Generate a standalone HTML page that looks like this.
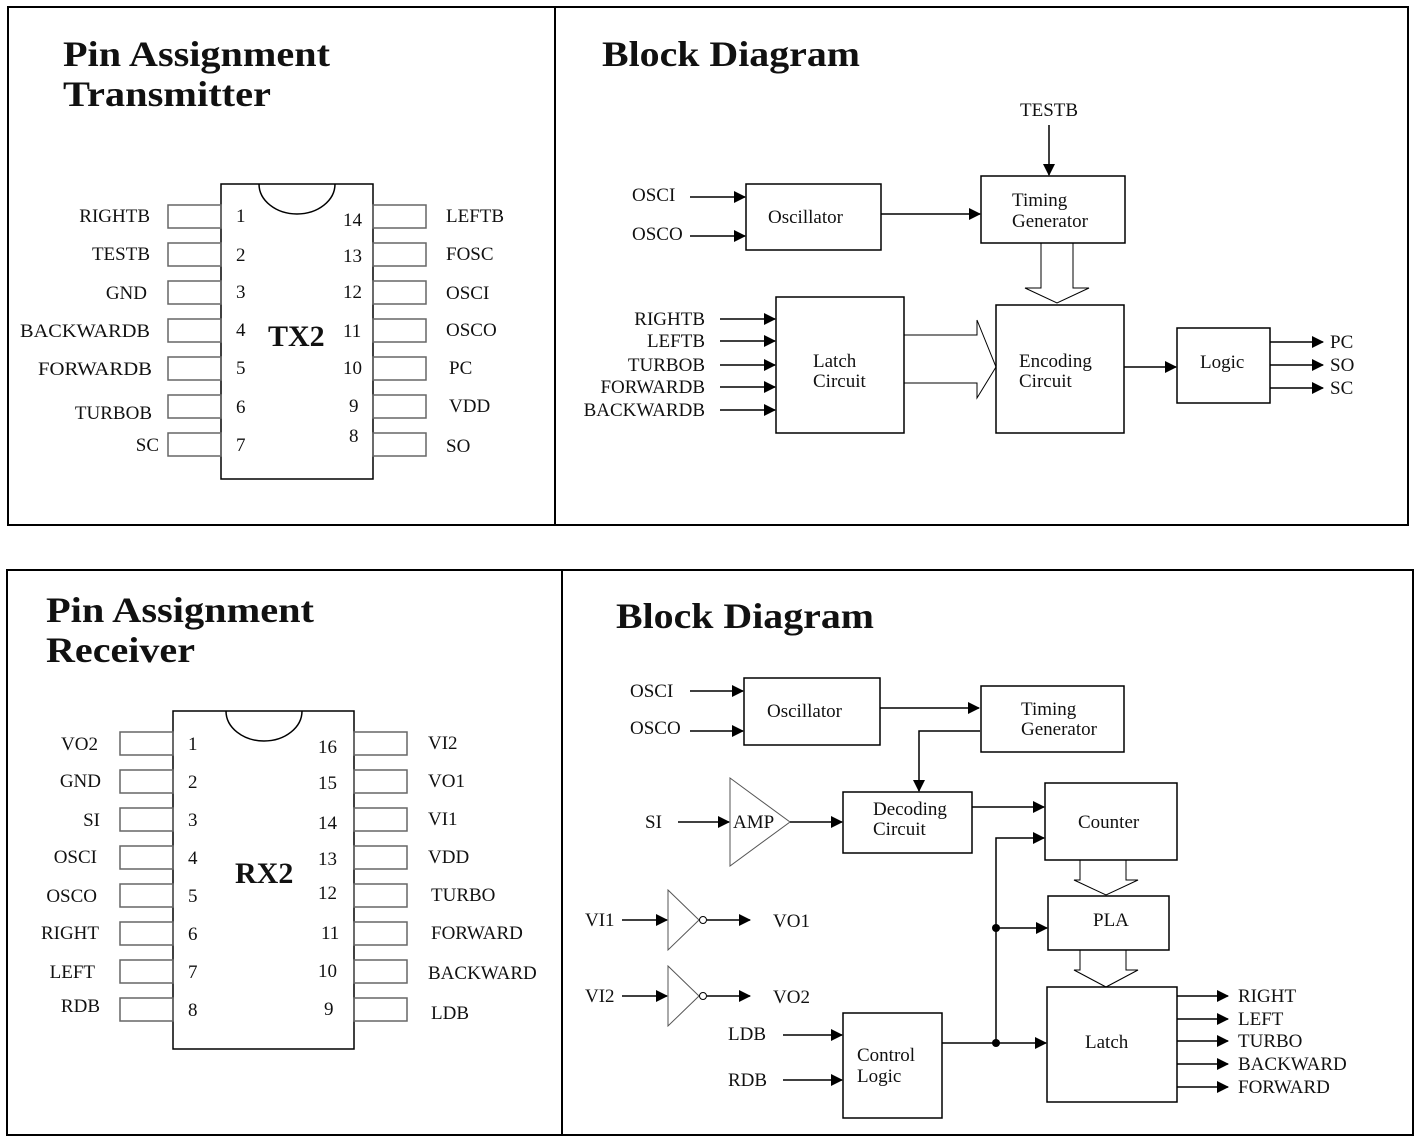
<!DOCTYPE html>
<html><head><meta charset="utf-8"><style>
body{margin:0;background:#fff}
svg{display:block}
text{font-family:"Liberation Serif",serif;font-size:19px;fill:#111}
.t{font-size:36px;font-weight:bold}
.b{font-weight:bold;font-size:30px}
</style></head><body>
<svg width="1419" height="1143" viewBox="0 0 1419 1143" xmlns="http://www.w3.org/2000/svg">
<defs><marker id="a" markerWidth="12" markerHeight="12" refX="11" refY="6" orient="auto" markerUnits="userSpaceOnUse"><path d="M0,0 L12,6 L0,12 z" fill="#000"/></marker></defs>
<g fill="none" stroke="#000" stroke-width="2">
<rect x="8" y="7" width="1400" height="518"/><line x1="555" y1="7" x2="555" y2="525"/>
<rect x="7" y="570" width="1406" height="565"/><line x1="562" y1="570" x2="562" y2="1135"/>
</g>
<text class="t" x="63" y="66" textLength="267" lengthAdjust="spacingAndGlyphs">Pin Assignment</text><text class="t" x="63" y="106" textLength="208" lengthAdjust="spacingAndGlyphs">Transmitter</text>
<text class="t" x="602" y="66" textLength="258" lengthAdjust="spacingAndGlyphs">Block Diagram</text>
<text class="t" x="46" y="622" textLength="268" lengthAdjust="spacingAndGlyphs">Pin Assignment</text><text class="t" x="46" y="662" textLength="149" lengthAdjust="spacingAndGlyphs">Receiver</text>
<text class="t" x="616" y="628" textLength="258" lengthAdjust="spacingAndGlyphs">Block Diagram</text>
<!-- TX2 chip -->
<g fill="none" stroke="#000" stroke-width="1.5">
<rect x="221" y="184" width="152" height="295"/>
<path d="M259,184 A38,30 0 0 0 335,184"/>
<g stroke="#666">
<rect x="168" y="205" width="53" height="23"/><rect x="168" y="243" width="53" height="23"/><rect x="168" y="281" width="53" height="23"/><rect x="168" y="319" width="53" height="23"/><rect x="168" y="357" width="53" height="23"/><rect x="168" y="395" width="53" height="23"/><rect x="168" y="433" width="53" height="23"/>
<rect x="373" y="205" width="53" height="23"/><rect x="373" y="243" width="53" height="23"/><rect x="373" y="281" width="53" height="23"/><rect x="373" y="319" width="53" height="23"/><rect x="373" y="357" width="53" height="23"/><rect x="373" y="395" width="53" height="23"/><rect x="373" y="433" width="53" height="23"/>
</g></g>
<g text-anchor="end"><text x="150" y="222">RIGHTB</text><text x="150" y="260">TESTB</text><text x="147" y="299">GND</text><text x="150" y="337" textLength="130" lengthAdjust="spacingAndGlyphs">BACKWARDB</text><text x="152" y="375" textLength="114" lengthAdjust="spacingAndGlyphs">FORWARDB</text><text x="152" y="419">TURBOB</text><text x="159" y="451">SC</text></g>
<text x="446" y="222">LEFTB</text><text x="446" y="260">FOSC</text><text x="446" y="299">OSCI</text><text x="446" y="336">OSCO</text><text x="449" y="374">PC</text><text x="449" y="412">VDD</text><text x="446" y="452">SO</text>
<text x="236" y="222">1</text><text x="236" y="261">2</text><text x="236" y="298">3</text><text x="236" y="336">4</text><text x="236" y="374">5</text><text x="236" y="413">6</text><text x="236" y="451">7</text>
<text x="343" y="226">14</text><text x="343" y="262">13</text><text x="343" y="298">12</text><text x="343" y="337">11</text><text x="343" y="374">10</text><text x="349" y="412">9</text><text x="349" y="442">8</text>
<text class="b" x="268" y="346">TX2</text>
<!-- TX block -->
<g fill="none" stroke="#000" stroke-width="1.5">
<rect x="746" y="184" width="135" height="66"/><rect x="981" y="176" width="144" height="67"/>
<rect x="776" y="297" width="128" height="136"/><rect x="996" y="305" width="128" height="128"/><rect x="1177" y="328" width="93" height="75"/>
<line x1="1049" y1="125" x2="1049" y2="175" marker-end="url(#a)"/>
<line x1="690" y1="197" x2="745" y2="197" marker-end="url(#a)"/><line x1="690" y1="236" x2="745" y2="236" marker-end="url(#a)"/>
<line x1="881" y1="214" x2="980" y2="214" marker-end="url(#a)"/>
<path d="M1041,243 V288 H1025 L1057,303 L1089,288 H1073 V243" stroke-width="1"/>
<path d="M904,335 H977 V320 L996,367 L977,398 V383 H904" stroke-width="1"/>
<line x1="720" y1="319" x2="775" y2="319" marker-end="url(#a)"/><line x1="720" y1="341" x2="775" y2="341" marker-end="url(#a)"/><line x1="720" y1="365" x2="775" y2="365" marker-end="url(#a)"/><line x1="720" y1="387" x2="775" y2="387" marker-end="url(#a)"/><line x1="720" y1="410" x2="775" y2="410" marker-end="url(#a)"/>
<line x1="1124" y1="367" x2="1176" y2="367" marker-end="url(#a)"/>
<line x1="1270" y1="342" x2="1323" y2="342" marker-end="url(#a)"/><line x1="1270" y1="365" x2="1323" y2="365" marker-end="url(#a)"/><line x1="1270" y1="388" x2="1323" y2="388" marker-end="url(#a)"/>
</g>
<text x="1020" y="116">TESTB</text><text x="632" y="201">OSCI</text><text x="632" y="240">OSCO</text>
<text x="768" y="223">Oscillator</text><text x="1012" y="206">Timing</text><text x="1012" y="227">Generator</text>
<g text-anchor="end"><text x="705" y="325">RIGHTB</text><text x="705" y="347">LEFTB</text><text x="705" y="371">TURBOB</text><text x="705" y="393">FORWARDB</text><text x="705" y="416">BACKWARDB</text></g>
<text x="813" y="367">Latch</text><text x="813" y="387">Circuit</text><text x="1019" y="367">Encoding</text><text x="1019" y="387">Circuit</text><text x="1200" y="368">Logic</text>
<text x="1330" y="348">PC</text><text x="1330" y="371">SO</text><text x="1330" y="394">SC</text>
<!-- RX2 chip -->
<g fill="none" stroke="#000" stroke-width="1.5">
<rect x="173" y="711" width="181" height="338"/>
<path d="M226,711 A38,30 0 0 0 302,711"/>
<g stroke="#666">
<rect x="120" y="732" width="53" height="23"/><rect x="120" y="770" width="53" height="23"/><rect x="120" y="808" width="53" height="23"/><rect x="120" y="846" width="53" height="23"/><rect x="120" y="884" width="53" height="23"/><rect x="120" y="922" width="53" height="23"/><rect x="120" y="960" width="53" height="23"/><rect x="120" y="998" width="53" height="23"/>
<rect x="354" y="732" width="53" height="23"/><rect x="354" y="770" width="53" height="23"/><rect x="354" y="808" width="53" height="23"/><rect x="354" y="846" width="53" height="23"/><rect x="354" y="884" width="53" height="23"/><rect x="354" y="922" width="53" height="23"/><rect x="354" y="960" width="53" height="23"/><rect x="354" y="998" width="53" height="23"/>
</g></g>
<g text-anchor="end"><text x="98" y="750">VO2</text><text x="101" y="787">GND</text><text x="100" y="826">SI</text><text x="97" y="863">OSCI</text><text x="97" y="902">OSCO</text><text x="99" y="939">RIGHT</text><text x="95" y="978">LEFT</text><text x="100" y="1012">RDB</text></g>
<text x="428" y="749">VI2</text><text x="428" y="787">VO1</text><text x="428" y="825">VI1</text><text x="428" y="863">VDD</text><text x="431" y="901">TURBO</text><text x="431" y="939">FORWARD</text><text x="428" y="979">BACKWARD</text><text x="431" y="1019">LDB</text>
<text x="188" y="750">1</text><text x="188" y="788">2</text><text x="188" y="826">3</text><text x="188" y="864">4</text><text x="188" y="902">5</text><text x="188" y="940">6</text><text x="188" y="978">7</text><text x="188" y="1016">8</text>
<text x="318" y="753">16</text><text x="318" y="789">15</text><text x="318" y="829">14</text><text x="318" y="865">13</text><text x="318" y="899">12</text><text x="321" y="939">11</text><text x="318" y="977">10</text><text x="324" y="1015">9</text>
<text class="b" x="235" y="883">RX2</text>
<!-- RX block -->
<g fill="none" stroke="#000" stroke-width="1.5">
<rect x="744" y="678" width="136" height="67"/><rect x="981" y="686" width="143" height="66"/>
<rect x="843" y="792" width="129" height="61"/><rect x="1045" y="783" width="132" height="77"/>
<rect x="1048" y="896" width="121" height="54"/><rect x="1047" y="987" width="130" height="115"/><rect x="843" y="1013" width="99" height="105"/>
<line x1="690" y1="691" x2="743" y2="691" marker-end="url(#a)"/><line x1="690" y1="731" x2="743" y2="731" marker-end="url(#a)"/>
<line x1="880" y1="708" x2="979" y2="708" marker-end="url(#a)"/>
<path d="M980,731 H919 V791" marker-end="url(#a)"/>
<path d="M730,778 L790,822 L730,866 Z" stroke="#555" stroke-width="1"/>
<line x1="678" y1="822" x2="729" y2="822" marker-end="url(#a)"/><line x1="790" y1="822" x2="842" y2="822" marker-end="url(#a)"/>
<line x1="972" y1="807" x2="1044" y2="807" marker-end="url(#a)"/>
<path d="M996,1043 V838 H1044" marker-end="url(#a)"/>
<line x1="996" y1="928" x2="1047" y2="928" marker-end="url(#a)"/>
<line x1="942" y1="1043" x2="1046" y2="1043" marker-end="url(#a)"/>
<path d="M1080,860 V880 H1074 L1106,895 L1138,880 H1126 V860" stroke-width="1"/>
<path d="M1080,950 V970 H1074 L1106,987 L1138,970 H1126 V950" stroke-width="1"/>
<line x1="622" y1="920" x2="667" y2="920" marker-end="url(#a)"/><path d="M668,890 L699,920 L668,950 Z" stroke="#555" stroke-width="1"/><circle cx="703" cy="920" r="3.5" stroke-width="1"/><line x1="707" y1="920" x2="750" y2="920" marker-end="url(#a)"/>
<line x1="622" y1="996" x2="667" y2="996" marker-end="url(#a)"/><path d="M668,966 L699,996 L668,1026 Z" stroke="#555" stroke-width="1"/><circle cx="703" cy="996" r="3.5" stroke-width="1"/><line x1="707" y1="996" x2="750" y2="996" marker-end="url(#a)"/>
<line x1="783" y1="1035" x2="842" y2="1035" marker-end="url(#a)"/><line x1="783" y1="1080" x2="842" y2="1080" marker-end="url(#a)"/>
<line x1="1177" y1="996" x2="1228" y2="996" marker-end="url(#a)"/><line x1="1177" y1="1019" x2="1228" y2="1019" marker-end="url(#a)"/><line x1="1177" y1="1041" x2="1228" y2="1041" marker-end="url(#a)"/><line x1="1177" y1="1064" x2="1228" y2="1064" marker-end="url(#a)"/><line x1="1177" y1="1087" x2="1228" y2="1087" marker-end="url(#a)"/>
</g>
<circle cx="996" cy="928" r="4"/><circle cx="996" cy="1043" r="4"/>
<text x="630" y="697">OSCI</text><text x="630" y="734">OSCO</text><text x="767" y="717">Oscillator</text>
<text x="1021" y="715">Timing</text><text x="1021" y="735">Generator</text>
<text x="645" y="828">SI</text><text x="733" y="828">AMP</text>
<text x="873" y="815">Decoding</text><text x="873" y="835">Circuit</text><text x="1078" y="828">Counter</text>
<text x="1093" y="926">PLA</text><text x="1085" y="1048">Latch</text>
<text x="857" y="1061">Control</text><text x="857" y="1082">Logic</text>
<text x="585" y="926">VI1</text><text x="773" y="927">VO1</text><text x="585" y="1002">VI2</text><text x="773" y="1003">VO2</text>
<text x="728" y="1040">LDB</text><text x="728" y="1086">RDB</text>
<text x="1238" y="1002">RIGHT</text><text x="1238" y="1025">LEFT</text><text x="1238" y="1047">TURBO</text><text x="1238" y="1070">BACKWARD</text><text x="1238" y="1093">FORWARD</text>
</svg>
</body></html>
